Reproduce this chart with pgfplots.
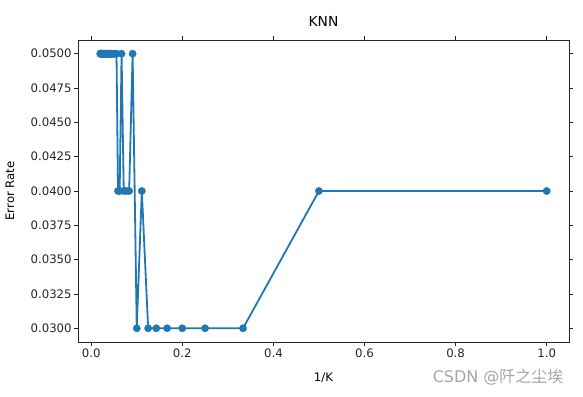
\documentclass[border=0pt]{standalone}
\usepackage{fontspec}
\setmainfont{DejaVu Sans}
\newfontfamily\cjk{Noto Sans CJK SC}
\usepackage{pgfplots}
\pgfplotsset{compat=1.18}
\definecolor{mplblue}{HTML}{1F77B4}
\begin{document}
\begin{tikzpicture}
\path[use as bounding box] (-78pt,-54pt) rectangle (505pt,342pt);
\begin{axis}[
  at={(0,0)}, anchor=south west,
  scale only axis, width=491pt, height=302pt,
  xmin=-0.029, xmax=1.049, ymin=0.029, ymax=0.051,
  xtick={0,0.2,0.4,0.6,0.8,1.0},
  ytick={0.03,0.0325,0.035,0.0375,0.04,0.0425,0.045,0.0475,0.05},
  scaled ticks=false,
  xticklabel style={/pgf/number format/.cd,fixed,fixed zerofill,precision=1},
  yticklabel style={/pgf/number format/.cd,fixed,fixed zerofill,precision=4},
  /pgf/number format/assume math mode=true,
  tick label style={font=\fontsize{11.7}{14}\selectfont, inner sep=2pt, text=black!85},
  tick align=outside, major tick length=4.2pt,
  tick style={black!85, line width=0.9pt},
  axis line style={black!85, line width=0.9pt},
  title={KNN}, title style={font=\fontsize{13.8}{16}\selectfont, at={(0.5,1)}, anchor=base, yshift=7.5pt},
  xlabel={1/K}, ylabel={Error Rate},
  label style={font=\fontsize{11.7}{14}\selectfont},
  xlabel style={at={(0.5,0)}, anchor=center, yshift=-36pt},
  ylabel style={at={(0,0.5)}, anchor=center, yshift=68pt},
  clip=false,
]
\addplot[mplblue, line width=1.8pt, mark=*, mark size=3.7pt, mark options={fill=mplblue, draw=mplblue, line width=0.3pt}] coordinates {
(1,0.04) (0.5,0.04) (0.333333,0.03) (0.25,0.03) (0.2,0.03) (0.166667,0.03)
(0.142857,0.03) (0.125,0.03) (0.111111,0.04) (0.1,0.03) (0.090909,0.05)
(0.083333,0.04) (0.076923,0.04) (0.071429,0.04) (0.066667,0.05) (0.0625,0.04)
(0.058824,0.04) (0.055556,0.05) (0.052632,0.05) (0.05,0.05) (0.047619,0.05)
(0.045455,0.05) (0.043478,0.05) (0.041667,0.05) (0.04,0.05) (0.038462,0.05)
(0.037037,0.05) (0.035714,0.05) (0.034483,0.05) (0.033333,0.05) (0.032258,0.05)
(0.03125,0.05) (0.030303,0.05) (0.029412,0.05) (0.028571,0.05) (0.027778,0.05)
(0.027027,0.05) (0.026316,0.05) (0.025641,0.05) (0.025,0.05) (0.02439,0.05)
(0.02381,0.05) (0.023256,0.05) (0.022727,0.05) (0.022222,0.05) (0.021739,0.05)
(0.021277,0.05) (0.020833,0.05) (0.020408,0.05) (0.02,0.05)
};
\end{axis}
\node[anchor=east, text=gray!70, font=\fontsize{16}{19}\selectfont] at (489pt,-35pt) {CSDN @{\cjk 阡之尘埃}};
\end{tikzpicture}
\end{document}
